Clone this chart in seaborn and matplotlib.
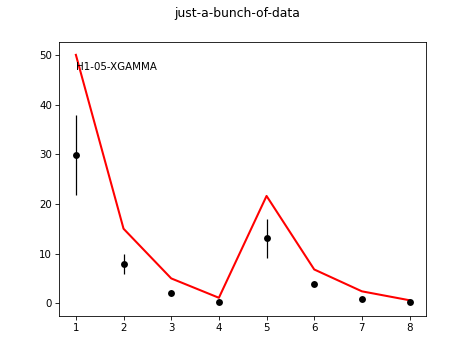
import matplotlib
matplotlib.use("Agg")
import matplotlib.pyplot as plt
import seaborn as sns
import pandas as pd

# data
x_vals = [1, 2, 3, 4, 5, 6, 7, 8]
obs = [29.8, 7.9, 2.0, 0.2, 13.1, 3.9, 0.8, 0.2]
obs_err = [8.1, 2.0, 0.6, 0.25, 3.9, 0.5, 0.2, 0.15]
model = [50.0, 15.0, 5.0, 1.1, 21.6, 6.8, 2.4, 0.6]

TITLE = "just-a-bunch-of-data"
LABEL = "H1-05-XGAMMA"


def make_image(output_path="out.png"):
    df = pd.DataFrame({"x": x_vals, "obs": obs, "err": obs_err, "model": model})

    fig, ax = plt.subplots(figsize=(6.4, 4.8), dpi=74)

    ax.errorbar(df["x"], df["obs"], yerr=df["err"], fmt="none", ecolor="black", elinewidth=1.2)
    sns.scatterplot(data=df, x="x", y="obs", ax=ax, color="black", s=45,
                    edgecolor="black", linewidth=0, zorder=3)
    sns.lineplot(data=df, x="x", y="model", ax=ax, color="red", linewidth=2)

    ax.text(1, 47, LABEL, fontsize=10)
    ax.set_xlabel("")
    ax.set_ylabel("")
    ax.set_xticks(x_vals)
    fig.suptitle(TITLE)

    plt.savefig(output_path, dpi=74)
    plt.close()


if __name__ == "__main__":
    make_image()
